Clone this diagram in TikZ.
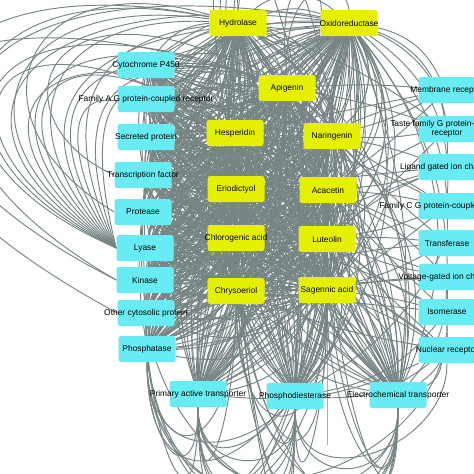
\documentclass[tikz,border=0pt]{standalone}
\usepackage{fontspec}
\setmainfont{Liberation Sans}
\usetikzlibrary{calc}
\pgfdeclarelayer{bg}
\pgfsetlayers{bg,main}
\definecolor{edgegray}{RGB}{118,132,132}
\definecolor{ncyan}{RGB}{102,236,242}
\definecolor{nyellow}{RGB}{228,240,0}
\begin{document}
\begin{tikzpicture}[x=1pt,y=-1pt,
  edge/.style={draw=edgegray,line width=0.95pt},
  nbox/.style={rounded corners=2.5pt,minimum width=57pt,minimum height=26pt,inner sep=0pt},
  ybox/.style={nbox,fill=nyellow},
  cbox/.style={nbox,fill=ncyan},
  lbl/.style={font=\fontsize{8.4}{9.5}\selectfont,text=black,inner sep=0pt,align=center}]
\useasboundingbox (0,0) rectangle (474,474);
\clip (0,0) rectangle (474,467);
% yellow nodes
\node[ybox,label={[lbl]center:Hydrolase}] (hyd) at (238,23) {};
\node[ybox,label={[lbl]center:Oxidoreductase}] (oxi) at (349,23) {};
\node[ybox,label={[lbl]center:Apigenin}] (api) at (287,88) {};
\node[ybox,label={[lbl]center:Hesperidin}] (hes) at (235,133) {};
\node[ybox,label={[lbl]center:Naringenin}] (nar) at (332,136) {};
\node[ybox,label={[lbl]center:Eriodictyol}] (eri) at (236,189) {};
\node[ybox,label={[lbl]center:Acacetin}] (aca) at (328,190) {};
\node[ybox,label={[lbl]center:Chlorogenic acid}] (chl) at (236,238) {};
\node[ybox,label={[lbl]center:Luteolin}] (lut) at (327,239) {};
\node[ybox,label={[lbl]center:Chrysoeriol}] (chr) at (236,291) {};
\node[ybox,label={[lbl]center:Sagennic acid}] (sag) at (327,290) {};
% left cyan nodes
\node[cbox,label={[lbl]center:Cytochrome P450}] (cyp) at (146,65) {};
\node[cbox,label={[lbl]center:Family A G protein-coupled receptor}] (faa) at (146,99) {};
\node[cbox,label={[lbl]center:Secreted protein}] (sec) at (146,137) {};
\node[cbox,label={[lbl]center:Transcription factor}] (tra) at (143,175) {};
\node[cbox,label={[lbl]center:Protease}] (pro) at (143,212) {};
\node[cbox,label={[lbl]center:Lyase}] (lya) at (145,248) {};
\node[cbox,label={[lbl]center:Kinase}] (kin) at (145,280) {};
\node[cbox,label={[lbl]center:Other cytosolic protein}] (oth) at (146,313) {};
\node[cbox,label={[lbl]center:Phosphatase}] (pho) at (147,349) {};
% bottom cyan nodes
\node[cbox,label={[lbl]center:Primary active transporter}] (pat) at (198,394) {};
\node[cbox,label={[lbl]center:Phosphodiesterase}] (pde) at (295,396) {};
\node[cbox,label={[lbl]center:Electrochemical transporter}] (ect) at (398,395) {};
% right cyan nodes
\node[cbox,label={[lbl]center:Membrane receptor}] (mem) at (447,90) {};
\node[cbox,label={[lbl]center:{Taste family G protein-coupled\\receptor}}] (tas) at (447,129) {};
\node[cbox,label={[lbl]center:Ligand gated ion channel}] (lgi) at (447,167) {};
\node[cbox,label={[lbl]center:Family C G protein-coupled receptor}] (fcg) at (447,206) {};
\node[cbox,label={[lbl]center:Transferase}] (trf) at (447,243) {};
\node[cbox,label={[lbl]center:Voltage-gated ion channel}] (vgi) at (447,277) {};
\node[cbox,label={[lbl]center:Isomerase}] (iso) at (447,312) {};
\node[cbox,label={[lbl]center:Nuclear receptor}] (nuc) at (447,350) {};
\begin{pgfonlayer}{bg}
% yellow to left and bottom cyan
\foreach \y in {hyd,oxi,api,hes,nar,eri,aca,chl,lut,chr,sag}{
  \foreach \c in {cyp,faa,sec,tra,pro,lya,kin,oth,pho,pat,pde,ect}{
    \draw[edge] (\y) to[bend left=14] (\c);
    \draw[edge] (\y) to[bend right=24] (\c);
    \draw[edge] (\y) to[bend left=32] (\c);
    \draw[edge] (\y) to[bend right=7] (\c);
  }
}
% yellow to yellow
\foreach \a [count=\i] in {hyd,oxi,api,hes,nar,eri,aca,chl,lut,chr,sag}{
  \foreach \b [count=\j] in {hyd,oxi,api,hes,nar,eri,aca,chl,lut,chr,sag}{
    \ifnum\j>\i
      \draw[edge] (\a) to[bend left=18] (\b);
      \draw[edge] (\a) to[bend right=8] (\b);
      \draw[edge] (\a) to[bend right=30] (\b);
      \draw[edge] (\a) to[bend left=40] (\b);
    \fi
  }
}
% yellow to right cyan
\foreach \c/\a/\b/\d/\e/\f in {mem/api/nar/hes/eri/aca, tas/api/nar/aca/hyd/lut,
  lgi/nar/aca/eri/lut/chl, fcg/aca/lut/nar/hes/sag, trf/lut/sag/aca/chr/nar,
  vgi/sag/lut/chr/aca/eri, iso/sag/lut/chr/chl/aca, nuc/sag/chr/lut/chl/eri}{
  \draw[edge] (\a) to[bend left=4] (\c);
  \draw[edge] (\b) to[bend right=6] (\c);
  \draw[edge] (\d) -- (\c);
  \draw[edge] (\e) to[bend left=8] (\c);
  \draw[edge] (\f) to[bend right=3] (\c);
}
% big loops on the left
\foreach \t [count=\k] in {hyd,api,hes,oxi,hyd,nar,api,hes,hyd,oxi,api,eri,hyd,api,hes}{
  \pgfmathsetmacro\ax{-130+14*\k}
  \pgfmathsetmacro\ay{150-3*\k}
  \pgfmathsetmacro\bx{-50+11*\k}
  \pgfmathsetmacro\by{-40+6*\k}
  \draw[edge] (lya.west) .. controls (\ax,\ay) and (\bx,\by) .. (\t);
}
\foreach \s/\t/\ax/\bx in {kin/hyd/-200/-60, oth/api/-240/-90, pro/hyd/-40/20, tra/api/-10/40, kin/oxi/-160/-20}{
  \draw[edge] (\s.west) .. controls (\ax,120) and (\bx,-40) .. (\t);
}
% loops below the bottom row
\foreach \a/\b/\d in {pho/ect/160, pho/pde/130, pho/pat/90, oth/pde/170, kin/ect/190,
  pat/pde/70, pat/ect/110, pde/ect/80, chr/sag/150, chl/pde/170, chr/pat/120,
  sag/ect/130, lut/pat/180, chr/ect/170, eri/pde/200, sag/pde/120, lut/ect/150,
  aca/pat/200, pho/sag/140, oth/chr/160, kin/pat/150, pat/sag/100, pde/nuc/90,
  lut/sag/220, pho/lut/190, eri/sag/240, hes/pde/260, chl/ect/210, nar/pat/250,
  chr/pde/90, sag/pat/160, aca/ect/180, chl/sag/130, oth/ect/230, pat/iso/140}{
  \draw[edge] (\a.south) .. controls ($(\a.south)+(0,\d)$) and ($(\b.south)+(0,\d)$) .. (\b.south);
}
% loops above the top row
\draw[edge] (api.north) .. controls (272,-40) and (330,-30) .. (oxi.west);
\draw[edge] (api.north) .. controls (282,-25) and (345,-25) .. (oxi.north);
\draw[edge] (hes.north) .. controls (195,-60) and (250,-60) .. (hyd.north);
\draw[edge] (eri.north) .. controls (185,-90) and (235,-90) .. (hyd.north);
\draw[edge] (chl.north) .. controls (200,-150) and (260,-150) .. (lut.north);
\draw[edge] (hes.north) .. controls (215,-120) and (300,-120) .. (nar.north);
% arcs from oxidoreductase to the right
\foreach \t/\b in {mem/25, tas/30, lgi/35, fcg/30, trf/25, nar/40, aca/45, lut/40, sag/35, iso/20}{
  \draw[edge] (oxi) to[bend left=\b] (\t);
}
% arcs at the lower right
\foreach \s/\t/\b in {iso/pde/20, nuc/pat/15, nuc/ect/25, vgi/ect/20, iso/ect/30, trf/pde/15, nuc/pde/20}{
  \draw[edge] (\s) to[bend left=\b] (\t);
}
\end{pgfonlayer}
\end{tikzpicture}
\end{document}
